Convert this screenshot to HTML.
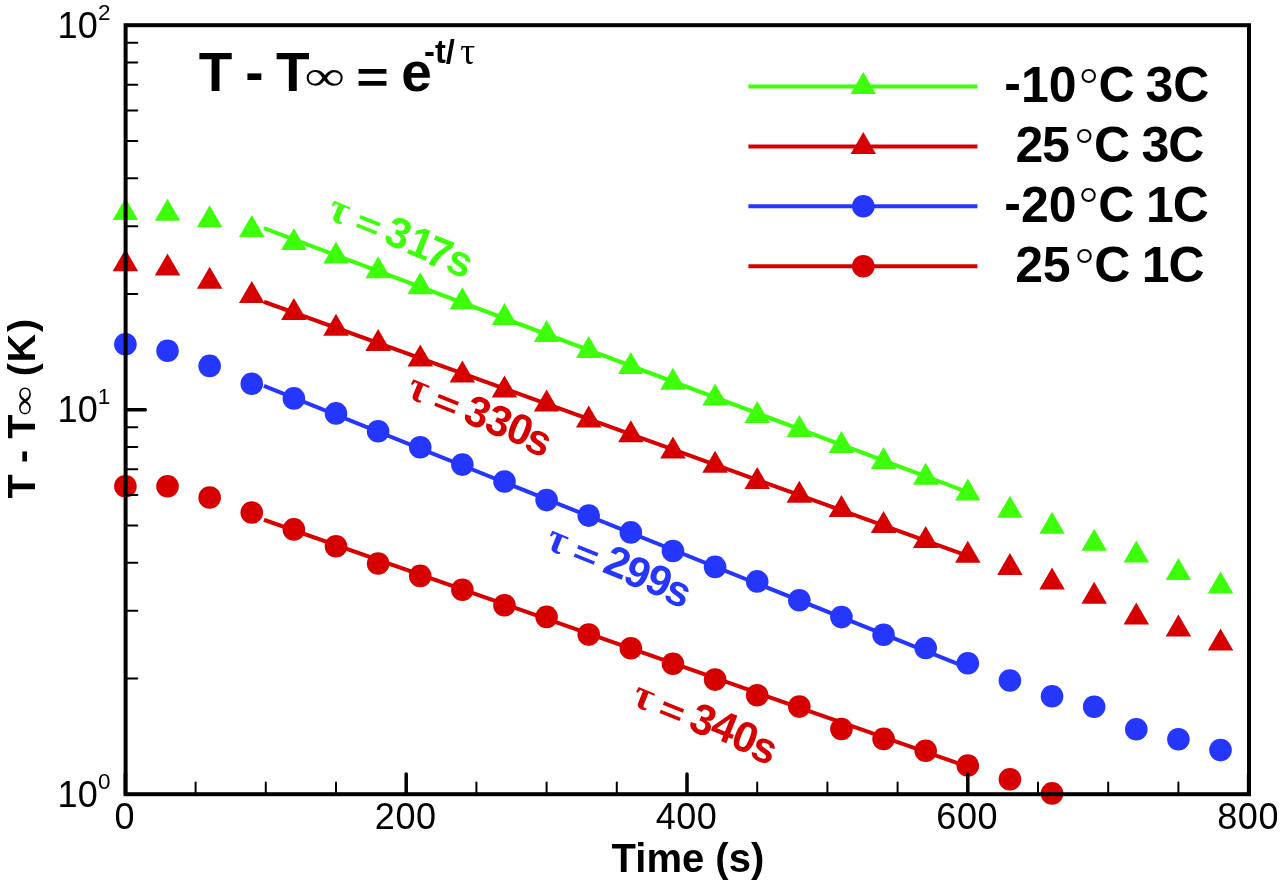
<!DOCTYPE html>
<html><head><meta charset="utf-8"><title>Plot</title>
<style>html,body{margin:0;padding:0;background:#fff;width:1280px;height:881px;overflow:hidden}svg{display:block}</style>
</head><body>
<svg width="1280" height="881" viewBox="0 0 1280 881" font-family="'Liberation Sans', Arial, Helvetica, sans-serif">
<rect width="1280" height="881" fill="#fff"/>
<line x1="265.80" y1="228.93" x2="967.80" y2="492.18" stroke="#3eff0a" stroke-width="4" stroke-linecap="square"/>
<line x1="265.80" y1="302.46" x2="967.80" y2="555.91" stroke="#d70000" stroke-width="4" stroke-linecap="square"/>
<line x1="265.80" y1="386.68" x2="967.80" y2="667.98" stroke="#2536ff" stroke-width="4" stroke-linecap="square"/>
<line x1="265.80" y1="520.51" x2="967.80" y2="766.71" stroke="#d70000" stroke-width="4" stroke-linecap="square"/>
<g fill="#3eff0a"><path d="M125.40 198.00L138.15 220.00L112.65 220.00Z"/><path d="M167.52 198.70L180.27 220.70L154.77 220.70Z"/><path d="M209.64 205.20L222.39 227.20L196.89 227.20Z"/><path d="M251.76 214.90L264.51 236.90L239.01 236.90Z"/><path d="M293.88 228.10L306.63 250.10L281.13 250.10Z"/><path d="M336.00 241.60L348.75 263.60L323.25 263.60Z"/><path d="M378.12 256.30L390.87 278.30L365.37 278.30Z"/><path d="M420.24 272.20L432.99 294.20L407.49 294.20Z"/><path d="M462.36 287.20L475.11 309.20L449.61 309.20Z"/><path d="M504.48 303.10L517.23 325.10L491.73 325.10Z"/><path d="M546.60 320.00L559.35 342.00L533.85 342.00Z"/><path d="M588.72 335.90L601.47 357.90L575.97 357.90Z"/><path d="M630.84 351.90L643.59 373.90L618.09 373.90Z"/><path d="M672.96 367.80L685.71 389.80L660.21 389.80Z"/><path d="M715.08 383.60L727.83 405.60L702.33 405.60Z"/><path d="M757.20 400.90L769.95 422.90L744.45 422.90Z"/><path d="M799.32 415.00L812.07 437.00L786.57 437.00Z"/><path d="M841.44 430.90L854.19 452.90L828.69 452.90Z"/><path d="M883.56 446.90L896.31 468.90L870.81 468.90Z"/><path d="M925.68 462.80L938.43 484.80L912.93 484.80Z"/><path d="M967.80 478.40L980.55 500.40L955.05 500.40Z"/><path d="M1009.92 495.75L1022.67 517.75L997.17 517.75Z"/><path d="M1052.04 511.75L1064.79 533.75L1039.29 533.75Z"/><path d="M1094.16 528.75L1106.91 550.75L1081.41 550.75Z"/><path d="M1136.28 540.50L1149.03 562.50L1123.53 562.50Z"/><path d="M1178.40 558.00L1191.15 580.00L1165.65 580.00Z"/><path d="M1220.52 571.60L1233.27 593.60L1207.77 593.60Z"/></g>
<g fill="#d70000"><path d="M125.40 249.20L138.15 271.20L112.65 271.20Z"/><path d="M167.52 253.50L180.27 275.50L154.77 275.50Z"/><path d="M209.64 266.80L222.39 288.80L196.89 288.80Z"/><path d="M251.76 281.00L264.51 303.00L239.01 303.00Z"/><path d="M293.88 298.10L306.63 320.10L281.13 320.10Z"/><path d="M336.00 313.70L348.75 335.70L323.25 335.70Z"/><path d="M378.12 329.10L390.87 351.10L365.37 351.10Z"/><path d="M420.24 344.40L432.99 366.40L407.49 366.40Z"/><path d="M462.36 360.40L475.11 382.40L449.61 382.40Z"/><path d="M504.48 375.60L517.23 397.60L491.73 397.60Z"/><path d="M546.60 389.50L559.35 411.50L533.85 411.50Z"/><path d="M588.72 405.60L601.47 427.60L575.97 427.60Z"/><path d="M630.84 420.30L643.59 442.30L618.09 442.30Z"/><path d="M672.96 436.60L685.71 458.60L660.21 458.60Z"/><path d="M715.08 450.80L727.83 472.80L702.33 472.80Z"/><path d="M757.20 467.00L769.95 489.00L744.45 489.00Z"/><path d="M799.32 480.80L812.07 502.80L786.57 502.80Z"/><path d="M841.44 495.00L854.19 517.00L828.69 517.00Z"/><path d="M883.56 510.90L896.31 532.90L870.81 532.90Z"/><path d="M925.68 525.90L938.43 547.90L912.93 547.90Z"/><path d="M967.80 540.70L980.55 562.70L955.05 562.70Z"/><path d="M1009.92 553.00L1022.67 575.00L997.17 575.00Z"/><path d="M1052.04 567.50L1064.79 589.50L1039.29 589.50Z"/><path d="M1094.16 581.75L1106.91 603.75L1081.41 603.75Z"/><path d="M1136.28 602.40L1149.03 624.40L1123.53 624.40Z"/><path d="M1178.40 614.60L1191.15 636.60L1165.65 636.60Z"/><path d="M1220.52 628.40L1233.27 650.40L1207.77 650.40Z"/></g>
<g fill="#2536ff"><circle cx="125.40" cy="344.20" r="11.3"/><circle cx="167.52" cy="350.70" r="11.3"/><circle cx="209.64" cy="365.90" r="11.3"/><circle cx="251.76" cy="383.75" r="11.3"/><circle cx="293.88" cy="398.40" r="11.3"/><circle cx="336.00" cy="413.40" r="11.3"/><circle cx="378.12" cy="431.25" r="11.3"/><circle cx="420.24" cy="447.20" r="11.3"/><circle cx="462.36" cy="464.60" r="11.3"/><circle cx="504.48" cy="481.50" r="11.3"/><circle cx="546.60" cy="500.10" r="11.3"/><circle cx="588.72" cy="515.60" r="11.3"/><circle cx="630.84" cy="532.40" r="11.3"/><circle cx="672.96" cy="551.00" r="11.3"/><circle cx="715.08" cy="566.90" r="11.3"/><circle cx="757.20" cy="581.40" r="11.3"/><circle cx="799.32" cy="600.25" r="11.3"/><circle cx="841.44" cy="617.10" r="11.3"/><circle cx="883.56" cy="634.75" r="11.3"/><circle cx="925.68" cy="648.00" r="11.3"/><circle cx="967.80" cy="663.20" r="11.3"/><circle cx="1009.92" cy="680.50" r="11.3"/><circle cx="1052.04" cy="696.25" r="11.3"/><circle cx="1094.16" cy="706.75" r="11.3"/><circle cx="1136.28" cy="729.25" r="11.3"/><circle cx="1178.40" cy="739.25" r="11.3"/><circle cx="1220.52" cy="750.10" r="11.3"/></g>
<g fill="#d70000"><circle cx="125.40" cy="486.25" r="11.3"/><circle cx="167.52" cy="486.25" r="11.3"/><circle cx="209.64" cy="497.50" r="11.3"/><circle cx="251.76" cy="512.50" r="11.3"/><circle cx="293.88" cy="529.40" r="11.3"/><circle cx="336.00" cy="546.25" r="11.3"/><circle cx="378.12" cy="563.50" r="11.3"/><circle cx="420.24" cy="575.90" r="11.3"/><circle cx="462.36" cy="589.75" r="11.3"/><circle cx="504.48" cy="605.30" r="11.3"/><circle cx="546.60" cy="616.90" r="11.3"/><circle cx="588.72" cy="634.60" r="11.3"/><circle cx="630.84" cy="648.30" r="11.3"/><circle cx="672.96" cy="663.80" r="11.3"/><circle cx="715.08" cy="679.60" r="11.3"/><circle cx="757.20" cy="695.20" r="11.3"/><circle cx="799.32" cy="706.60" r="11.3"/><circle cx="841.44" cy="729.00" r="11.3"/><circle cx="883.56" cy="738.90" r="11.3"/><circle cx="925.68" cy="750.70" r="11.3"/><circle cx="967.80" cy="765.60" r="11.3"/><circle cx="1009.92" cy="779.30" r="11.3"/><circle cx="1052.04" cy="793.40" r="11.3"/></g>
<rect x="125.6" y="25.2" width="1123.40" height="769.00" fill="none" stroke="#000" stroke-width="4"/>
<line x1="125.40" y1="794.2" x2="125.40" y2="774.0" stroke="#000" stroke-width="3.5" stroke-linecap="round"/>
<line x1="195.60" y1="794.2" x2="195.60" y2="782.5" stroke="#000" stroke-width="2" stroke-linecap="round"/>
<line x1="265.80" y1="794.2" x2="265.80" y2="782.5" stroke="#000" stroke-width="2" stroke-linecap="round"/>
<line x1="336.00" y1="794.2" x2="336.00" y2="782.5" stroke="#000" stroke-width="2" stroke-linecap="round"/>
<line x1="406.20" y1="794.2" x2="406.20" y2="774.0" stroke="#000" stroke-width="3.5" stroke-linecap="round"/>
<line x1="476.40" y1="794.2" x2="476.40" y2="782.5" stroke="#000" stroke-width="2" stroke-linecap="round"/>
<line x1="546.60" y1="794.2" x2="546.60" y2="782.5" stroke="#000" stroke-width="2" stroke-linecap="round"/>
<line x1="616.80" y1="794.2" x2="616.80" y2="782.5" stroke="#000" stroke-width="2" stroke-linecap="round"/>
<line x1="687.00" y1="794.2" x2="687.00" y2="774.0" stroke="#000" stroke-width="3.5" stroke-linecap="round"/>
<line x1="757.20" y1="794.2" x2="757.20" y2="782.5" stroke="#000" stroke-width="2" stroke-linecap="round"/>
<line x1="827.40" y1="794.2" x2="827.40" y2="782.5" stroke="#000" stroke-width="2" stroke-linecap="round"/>
<line x1="897.60" y1="794.2" x2="897.60" y2="782.5" stroke="#000" stroke-width="2" stroke-linecap="round"/>
<line x1="967.80" y1="794.2" x2="967.80" y2="774.0" stroke="#000" stroke-width="3.5" stroke-linecap="round"/>
<line x1="1038.00" y1="794.2" x2="1038.00" y2="782.5" stroke="#000" stroke-width="2" stroke-linecap="round"/>
<line x1="1108.20" y1="794.2" x2="1108.20" y2="782.5" stroke="#000" stroke-width="2" stroke-linecap="round"/>
<line x1="1178.40" y1="794.2" x2="1178.40" y2="782.5" stroke="#000" stroke-width="2" stroke-linecap="round"/>
<line x1="1248.60" y1="794.2" x2="1248.60" y2="774.0" stroke="#000" stroke-width="3.5" stroke-linecap="round"/>
<line x1="125.6" y1="678.45" x2="137.29999999999998" y2="678.45" stroke="#000" stroke-width="2" stroke-linecap="round"/>
<line x1="125.6" y1="610.75" x2="137.29999999999998" y2="610.75" stroke="#000" stroke-width="2" stroke-linecap="round"/>
<line x1="125.6" y1="562.71" x2="137.29999999999998" y2="562.71" stroke="#000" stroke-width="2" stroke-linecap="round"/>
<line x1="125.6" y1="525.45" x2="137.29999999999998" y2="525.45" stroke="#000" stroke-width="2" stroke-linecap="round"/>
<line x1="125.6" y1="495.00" x2="137.29999999999998" y2="495.00" stroke="#000" stroke-width="2" stroke-linecap="round"/>
<line x1="125.6" y1="469.26" x2="137.29999999999998" y2="469.26" stroke="#000" stroke-width="2" stroke-linecap="round"/>
<line x1="125.6" y1="446.96" x2="137.29999999999998" y2="446.96" stroke="#000" stroke-width="2" stroke-linecap="round"/>
<line x1="125.6" y1="427.29" x2="137.29999999999998" y2="427.29" stroke="#000" stroke-width="2" stroke-linecap="round"/>
<line x1="125.6" y1="409.70" x2="145.29999999999998" y2="409.70" stroke="#000" stroke-width="3.5" stroke-linecap="round"/>
<line x1="125.6" y1="293.95" x2="137.29999999999998" y2="293.95" stroke="#000" stroke-width="2" stroke-linecap="round"/>
<line x1="125.6" y1="226.25" x2="137.29999999999998" y2="226.25" stroke="#000" stroke-width="2" stroke-linecap="round"/>
<line x1="125.6" y1="178.21" x2="137.29999999999998" y2="178.21" stroke="#000" stroke-width="2" stroke-linecap="round"/>
<line x1="125.6" y1="140.95" x2="137.29999999999998" y2="140.95" stroke="#000" stroke-width="2" stroke-linecap="round"/>
<line x1="125.6" y1="110.50" x2="137.29999999999998" y2="110.50" stroke="#000" stroke-width="2" stroke-linecap="round"/>
<line x1="125.6" y1="84.76" x2="137.29999999999998" y2="84.76" stroke="#000" stroke-width="2" stroke-linecap="round"/>
<line x1="125.6" y1="62.46" x2="137.29999999999998" y2="62.46" stroke="#000" stroke-width="2" stroke-linecap="round"/>
<line x1="125.6" y1="42.79" x2="137.29999999999998" y2="42.79" stroke="#000" stroke-width="2" stroke-linecap="round"/>
<line x1="748.4" y1="86.4" x2="977.4" y2="86.4" stroke="#3eff0a" stroke-width="4"/>
<g fill="#3eff0a"><path d="M863.30 71.90L876.05 93.90L850.55 93.90Z"/></g>
<text x="1004.15" y="100.20" font-size="50" font-weight="bold" font-family="'Liberation Sans', Arial, Helvetica, sans-serif">-</text>
<text x="1020.92" y="101.70" font-size="50" font-weight="bold" font-family="'Liberation Sans', Arial, Helvetica, sans-serif">1</text>
<text x="1048.63" y="101.70" font-size="50" font-weight="bold" font-family="'Liberation Sans', Arial, Helvetica, sans-serif">0</text>
<text x="1075.25" y="106.60" font-size="54" font-weight="200" font-family="'DejaVu Sans', 'Liberation Sans', sans-serif">°</text>
<text x="1098.45" y="101.70" font-size="50" font-weight="bold" font-family="'Liberation Sans', Arial, Helvetica, sans-serif">C</text>
<text x="1145.48" y="101.70" font-size="50" font-weight="bold" font-family="'Liberation Sans', Arial, Helvetica, sans-serif">3</text>
<text x="1173.15" y="101.70" font-size="50" font-weight="bold" font-family="'Liberation Sans', Arial, Helvetica, sans-serif">C</text>
<line x1="748.4" y1="146.5" x2="977.4" y2="146.5" stroke="#d70000" stroke-width="4"/>
<g fill="#d70000"><path d="M863.30 132.00L876.05 154.00L850.55 154.00Z"/></g>
<text x="1015.43" y="161.80" font-size="50" font-weight="bold" font-family="'Liberation Sans', Arial, Helvetica, sans-serif">2</text>
<text x="1041.92" y="161.80" font-size="50" font-weight="bold" font-family="'Liberation Sans', Arial, Helvetica, sans-serif">5</text>
<text x="1070.65" y="166.70" font-size="54" font-weight="200" font-family="'DejaVu Sans', 'Liberation Sans', sans-serif">°</text>
<text x="1094.05" y="161.80" font-size="50" font-weight="bold" font-family="'Liberation Sans', Arial, Helvetica, sans-serif">C</text>
<text x="1141.53" y="161.80" font-size="50" font-weight="bold" font-family="'Liberation Sans', Arial, Helvetica, sans-serif">3</text>
<text x="1168.30" y="161.80" font-size="50" font-weight="bold" font-family="'Liberation Sans', Arial, Helvetica, sans-serif">C</text>
<line x1="748.4" y1="206.2" x2="977.4" y2="206.2" stroke="#2536ff" stroke-width="4"/>
<g fill="#2536ff"><circle cx="863.30" cy="206.20" r="11.3"/></g>
<text x="1004.30" y="220.00" font-size="50" font-weight="bold" font-family="'Liberation Sans', Arial, Helvetica, sans-serif">-</text>
<text x="1021.08" y="221.50" font-size="50" font-weight="bold" font-family="'Liberation Sans', Arial, Helvetica, sans-serif">2</text>
<text x="1048.73" y="221.50" font-size="50" font-weight="bold" font-family="'Liberation Sans', Arial, Helvetica, sans-serif">0</text>
<text x="1075.10" y="226.40" font-size="54" font-weight="200" font-family="'DejaVu Sans', 'Liberation Sans', sans-serif">°</text>
<text x="1098.35" y="221.50" font-size="50" font-weight="bold" font-family="'Liberation Sans', Arial, Helvetica, sans-serif">C</text>
<text x="1145.92" y="221.50" font-size="50" font-weight="bold" font-family="'Liberation Sans', Arial, Helvetica, sans-serif">1</text>
<text x="1172.65" y="221.50" font-size="50" font-weight="bold" font-family="'Liberation Sans', Arial, Helvetica, sans-serif">C</text>
<line x1="748.4" y1="266.3" x2="977.4" y2="266.3" stroke="#d70000" stroke-width="4"/>
<g fill="#d70000"><circle cx="863.30" cy="266.30" r="11.3"/></g>
<text x="1015.23" y="281.60" font-size="50" font-weight="bold" font-family="'Liberation Sans', Arial, Helvetica, sans-serif">2</text>
<text x="1042.72" y="281.60" font-size="50" font-weight="bold" font-family="'Liberation Sans', Arial, Helvetica, sans-serif">5</text>
<text x="1070.90" y="286.50" font-size="54" font-weight="200" font-family="'DejaVu Sans', 'Liberation Sans', sans-serif">°</text>
<text x="1094.15" y="281.60" font-size="50" font-weight="bold" font-family="'Liberation Sans', Arial, Helvetica, sans-serif">C</text>
<text x="1141.72" y="281.60" font-size="50" font-weight="bold" font-family="'Liberation Sans', Arial, Helvetica, sans-serif">1</text>
<text x="1168.45" y="281.60" font-size="50" font-weight="bold" font-family="'Liberation Sans', Arial, Helvetica, sans-serif">C</text>
<text x="114.59" y="829.40" font-size="36" font-weight="normal" font-family="'Liberation Sans', Arial, Helvetica, sans-serif">0</text>
<text x="374.77" y="829.40" font-size="36" font-weight="normal" font-family="'Liberation Sans', Arial, Helvetica, sans-serif">2</text>
<text x="395.39" y="829.40" font-size="36" font-weight="normal" font-family="'Liberation Sans', Arial, Helvetica, sans-serif">0</text>
<text x="416.01" y="829.40" font-size="36" font-weight="normal" font-family="'Liberation Sans', Arial, Helvetica, sans-serif">0</text>
<text x="655.69" y="829.40" font-size="36" font-weight="normal" font-family="'Liberation Sans', Arial, Helvetica, sans-serif">4</text>
<text x="676.19" y="829.40" font-size="36" font-weight="normal" font-family="'Liberation Sans', Arial, Helvetica, sans-serif">0</text>
<text x="696.81" y="829.40" font-size="36" font-weight="normal" font-family="'Liberation Sans', Arial, Helvetica, sans-serif">0</text>
<text x="936.25" y="829.40" font-size="36" font-weight="normal" font-family="'Liberation Sans', Arial, Helvetica, sans-serif">6</text>
<text x="956.99" y="829.40" font-size="36" font-weight="normal" font-family="'Liberation Sans', Arial, Helvetica, sans-serif">0</text>
<text x="977.61" y="829.40" font-size="36" font-weight="normal" font-family="'Liberation Sans', Arial, Helvetica, sans-serif">0</text>
<text x="1217.17" y="829.40" font-size="36" font-weight="normal" font-family="'Liberation Sans', Arial, Helvetica, sans-serif">8</text>
<text x="1237.79" y="829.40" font-size="36" font-weight="normal" font-family="'Liberation Sans', Arial, Helvetica, sans-serif">0</text>
<text x="1258.41" y="829.40" font-size="36" font-weight="normal" font-family="'Liberation Sans', Arial, Helvetica, sans-serif">0</text>
<text x="57.50" y="806.80" font-size="36" font-weight="normal" font-family="'Liberation Sans', Arial, Helvetica, sans-serif">1</text>
<text x="77.79" y="806.80" font-size="36" font-weight="normal" font-family="'Liberation Sans', Arial, Helvetica, sans-serif">0</text>
<text x="97.94" y="788.60" font-size="22.5" font-weight="normal" font-family="'Liberation Sans', Arial, Helvetica, sans-serif">0</text>
<text x="57.50" y="422.30" font-size="36" font-weight="normal" font-family="'Liberation Sans', Arial, Helvetica, sans-serif">1</text>
<text x="77.79" y="422.30" font-size="36" font-weight="normal" font-family="'Liberation Sans', Arial, Helvetica, sans-serif">0</text>
<text x="97.64" y="404.10" font-size="22.5" font-weight="normal" font-family="'Liberation Sans', Arial, Helvetica, sans-serif">1</text>
<text x="57.50" y="37.80" font-size="36" font-weight="normal" font-family="'Liberation Sans', Arial, Helvetica, sans-serif">1</text>
<text x="77.79" y="37.80" font-size="36" font-weight="normal" font-family="'Liberation Sans', Arial, Helvetica, sans-serif">0</text>
<text x="97.94" y="19.60" font-size="22.5" font-weight="normal" font-family="'Liberation Sans', Arial, Helvetica, sans-serif">2</text>
<text x="611.6" y="872" font-size="40" font-weight="bold">Time (s)</text>
<text transform="translate(34.6 500) rotate(-90)" x="1.58" font-size="39.5" font-weight="bold" font-family="'Liberation Sans', Arial, Helvetica, sans-serif">T</text>
<text transform="translate(34.6 500) rotate(-90)" x="36.94" font-size="39.5" font-weight="bold" font-family="'Liberation Sans', Arial, Helvetica, sans-serif">-</text>
<text transform="translate(34.6 500) rotate(-90)" x="61.23" font-size="39.5" font-weight="bold" font-family="'Liberation Sans', Arial, Helvetica, sans-serif">T</text>
<text transform="translate(34.6 500) rotate(-90)" x="123.71" font-size="39.5" font-weight="bold" font-family="'Liberation Sans', Arial, Helvetica, sans-serif">(</text>
<text transform="translate(34.6 500) rotate(-90)" x="137.40" font-size="39.5" font-weight="bold" font-family="'Liberation Sans', Arial, Helvetica, sans-serif">K</text>
<text transform="translate(34.6 500) rotate(-90)" x="168.14" font-size="39.5" font-weight="bold" font-family="'Liberation Sans', Arial, Helvetica, sans-serif">)</text>
<text transform="translate(34.6 500) rotate(-90) translate(84.01 -0.92) scale(1.3568 1)" font-size="31.11" font-family="'Liberation Serif', 'Times New Roman', serif">∞</text>
<text x="198.74" y="91.40" font-size="55" font-weight="bold" font-family="'Liberation Sans', Arial, Helvetica, sans-serif">T</text>
<text x="245.27" y="91.40" font-size="55" font-weight="bold" font-family="'Liberation Sans', Arial, Helvetica, sans-serif">-</text>
<text x="276.04" y="91.40" font-size="55" font-weight="bold" font-family="'Liberation Sans', Arial, Helvetica, sans-serif">T</text>
<text transform="translate(304.47 89.54) scale(1.3570 1)" font-size="41.75" font-weight="normal" font-family="'Liberation Serif', 'Times New Roman', serif">∞</text>
<text transform="translate(356.29 92.75) scale(1.2442 1)" font-size="44.72" font-weight="bold" font-family="'Liberation Sans', Arial, Helvetica, sans-serif">=</text>
<text x="401.17" y="91.40" font-size="55" font-weight="bold" font-family="'Liberation Sans', Arial, Helvetica, sans-serif">e</text>
<text x="424.1" y="63.4" font-size="32.7" font-weight="bold">-t/</text>
<text x="460.27" y="64.10" font-size="37" font-weight="normal" font-family="'Liberation Serif', 'Times New Roman', serif">τ</text>
<text transform="translate(337.00 212.60) rotate(22.0)" x="-8.44" y="9.43" font-size="42" font-weight="bold" font-family="'Liberation Serif', 'Times New Roman', serif" fill="#3eff0a">τ</text>
<text transform="translate(368.20 225.00) rotate(22.0) scale(1 0.78)" x="-12.57" y="14.24" font-size="43" font-weight="bold" fill="#3eff0a">=</text>
<text transform="translate(398.30 232.90) rotate(22.0)" x="-11.67" y="14.77" font-size="43" font-weight="bold" fill="#3eff0a">3</text>
<text transform="translate(421.90 243.20) rotate(22.0)" x="-12.71" y="14.79" font-size="43" font-weight="bold" fill="#3eff0a">1</text>
<text transform="translate(439.70 252.80) rotate(22.0)" x="-11.94" y="14.79" font-size="43" font-weight="bold" fill="#3eff0a">7</text>
<text transform="translate(458.90 263.90) rotate(22.0)" x="-11.83" y="11.37" font-size="43" font-weight="bold" fill="#3eff0a">s</text>
<text transform="translate(416.30 391.10) rotate(22.0)" x="-8.44" y="9.43" font-size="42" font-weight="bold" font-family="'Liberation Serif', 'Times New Roman', serif" fill="#d70000">τ</text>
<text transform="translate(446.50 404.00) rotate(22.0) scale(1 0.78)" x="-12.57" y="14.24" font-size="43" font-weight="bold" fill="#d70000">=</text>
<text transform="translate(477.60 411.90) rotate(22.0)" x="-11.67" y="14.77" font-size="43" font-weight="bold" fill="#d70000">3</text>
<text transform="translate(498.80 421.00) rotate(22.0)" x="-11.67" y="14.77" font-size="43" font-weight="bold" fill="#d70000">3</text>
<text transform="translate(520.00 429.30) rotate(22.0)" x="-11.93" y="14.80" font-size="43" font-weight="bold" fill="#d70000">0</text>
<text transform="translate(537.70 442.90) rotate(22.0)" x="-11.83" y="11.37" font-size="43" font-weight="bold" fill="#d70000">s</text>
<text transform="translate(555.40 542.60) rotate(22.0)" x="-8.44" y="9.43" font-size="42" font-weight="bold" font-family="'Liberation Serif', 'Times New Roman', serif" fill="#2536ff">τ</text>
<text transform="translate(586.10 555.00) rotate(22.0) scale(1 0.78)" x="-12.57" y="14.24" font-size="43" font-weight="bold" fill="#2536ff">=</text>
<text transform="translate(617.70 561.90) rotate(22.0)" x="-11.84" y="15.01" font-size="43" font-weight="bold" fill="#2536ff">2</text>
<text transform="translate(637.90 572.50) rotate(22.0)" x="-11.90" y="14.80" font-size="43" font-weight="bold" fill="#2536ff">9</text>
<text transform="translate(659.10 580.80) rotate(22.0)" x="-11.90" y="14.80" font-size="43" font-weight="bold" fill="#2536ff">9</text>
<text transform="translate(677.30 593.90) rotate(22.0)" x="-11.83" y="11.37" font-size="43" font-weight="bold" fill="#2536ff">s</text>
<text transform="translate(641.70 698.80) rotate(22.0)" x="-8.44" y="9.43" font-size="42" font-weight="bold" font-family="'Liberation Serif', 'Times New Roman', serif" fill="#d70000">τ</text>
<text transform="translate(671.90 711.20) rotate(22.0) scale(1 0.78)" x="-12.57" y="14.24" font-size="43" font-weight="bold" fill="#d70000">=</text>
<text transform="translate(703.00 719.60) rotate(22.0)" x="-11.67" y="14.77" font-size="43" font-weight="bold" fill="#d70000">3</text>
<text transform="translate(724.70 726.70) rotate(22.0)" x="-12.17" y="14.79" font-size="43" font-weight="bold" fill="#d70000">4</text>
<text transform="translate(745.40 737.00) rotate(22.0)" x="-11.93" y="14.80" font-size="43" font-weight="bold" fill="#d70000">0</text>
<text transform="translate(763.60 750.60) rotate(22.0)" x="-11.83" y="11.37" font-size="43" font-weight="bold" fill="#d70000">s</text>
</svg>
</body></html>
